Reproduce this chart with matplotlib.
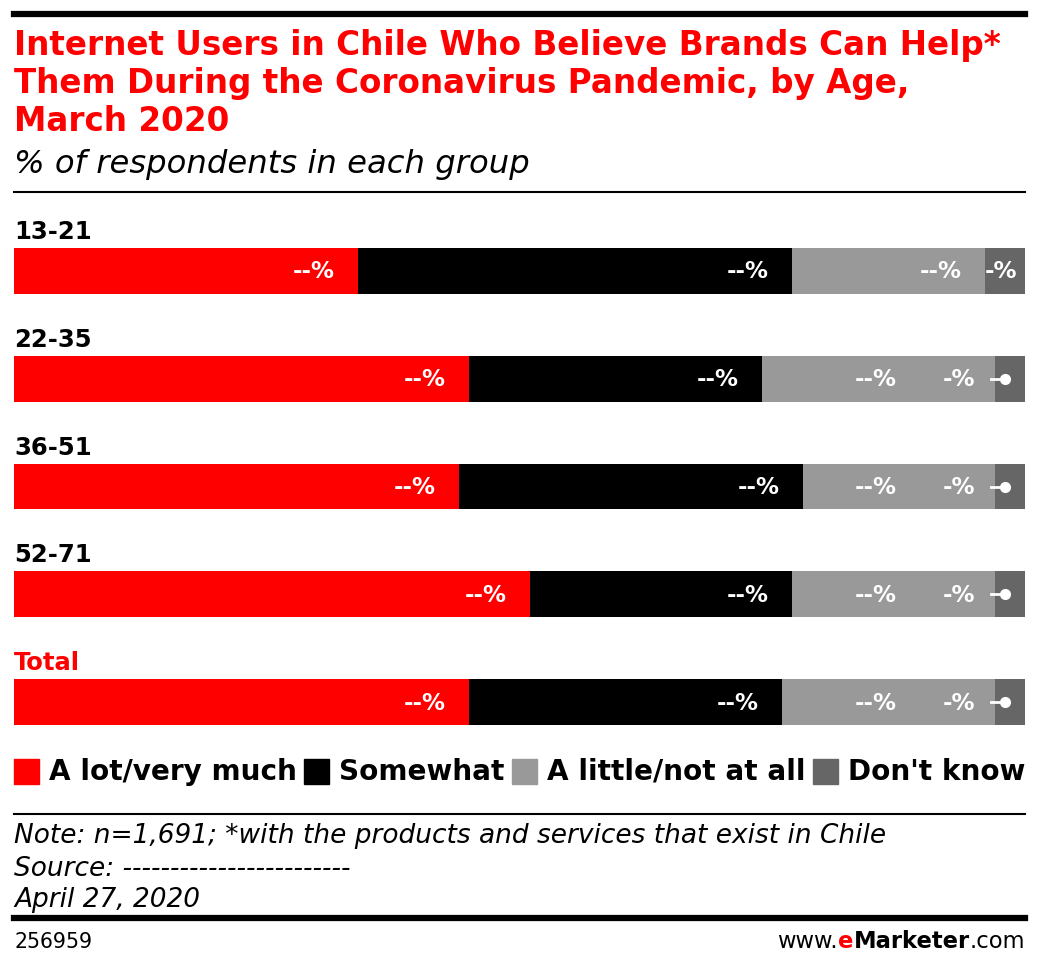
import numpy as np
import matplotlib
matplotlib.use("Agg")
import matplotlib.pyplot as plt
from matplotlib.lines import Line2D
from matplotlib.patches import Rectangle

# data (values hidden in the source, shown as --%)
groups = ["13-21", "22-35", "36-51", "52-71", "Total"]
series = ["A lot/very much", "Somewhat", "A little/not at all", "Don't know"]
a_lot = [34, 45, 44, 51, 45]
somewhat = [43, 29, 34, 26, 31]
a_little = [19, 23, 19, 20, 21]
dont_know = [4, 3, 3, 3, 3]
big_label = "--%"
small_label = "-%"

colors = ["#ff0000", "#000000", "#999999", "#666666"]
W, H = 1039, 970

fig = plt.figure(figsize=(W / 100, H / 100), dpi=100)

def fx(px):
    return px / W

def fy(py):
    return 1 - py / H

# rules
def hline(y, lw):
    fig.add_artist(Line2D([fx(14), fx(1025)], [fy(y), fy(y)], color="black", lw=lw,
                          transform=fig.transFigure))

hline(15, 4.5)
hline(193, 1.5)
hline(815, 1.5)
hline(919, 4.5)

# titles
fig.text(fx(14), fy(29), "Internet Users in Chile Who Believe Brands Can Help*\n"
         "Them During the Coronavirus Pandemic, by Age,\nMarch 2020",
         color="#ff0000", fontsize=23.5, fontweight="bold", va="top", ha="left",
         linespacing=1.2)
fig.text(fx(14), fy(165), "% of respondents in each group", fontsize=23.2,
         style="italic", va="center", ha="left")

# bars
ax = fig.add_axes([fx(14), fy(767.8), fx(1025) - fx(14), (767.8 - 207.2) / H])
ypos = np.arange(len(groups))
data = [a_lot, somewhat, a_little, dont_know]
callout = [v < 3.5 for v in dont_know]
left = np.zeros(len(groups))
for k, vals in enumerate(data):
    vals = np.array(vals, dtype=float)
    ax.barh(ypos, vals, left=left, height=0.426, color=colors[k], edgecolor="none")
    for i, v in enumerate(vals):
        end = left[i] + v
        if k < 3:
            pad = 9.7 if (k == 2 and callout[i]) else 2.3
            ax.text(end - pad, ypos[i], big_label, color="white", fontsize=16.5,
                    fontweight="bold", ha="right", va="center")
        elif not callout[i]:
            ax.text(end - 0.8, ypos[i], small_label, color="white", fontsize=16.5,
                    fontweight="bold", ha="right", va="center")
        else:
            mid = left[i] + v / 2 - 0.5
            ax.plot([mid - 1.4, mid], [ypos[i], ypos[i]], color="white", lw=2)
            ax.plot(mid, ypos[i], "o", color="white", ms=7)
            ax.text(mid - 2.9, ypos[i], small_label, color="white", fontsize=16.5,
                    fontweight="bold", ha="right", va="center")
    left += vals

for i, g in enumerate(groups):
    ax.text(0, ypos[i] - 0.37, g, fontsize=17.5, fontweight="bold", ha="left",
            va="center", color="#ff0000" if g == "Total" else "black")

ax.set_xlim(0, 100)
ax.set_ylim(len(groups) - 0.4, -0.6)
ax.axis("off")

# legend drawn by hand so it spans the full width
fig.canvas.draw()
renderer = fig.canvas.get_renderer()
x = 14
ly = 772
sq = 25
gap = 10
for k, name in enumerate(series):
    r = Rectangle((fx(x), fy(ly + sq / 2)), fx(sq), sq / H, color=colors[k],
                  transform=fig.transFigure)
    fig.add_artist(r)
    t = fig.text(fx(x + sq + gap), fy(ly), name, fontsize=20.1, fontweight="bold",
                 va="center", ha="left")
    bb = t.get_window_extent(renderer)
    x = x + sq + gap + bb.width + 7.5

# notes
fig.text(fx(14), fy(836), "Note: n=1,691; *with the products and services that exist in Chile",
         fontsize=19, style="italic", va="center", ha="left")
fig.text(fx(14), fy(869), "Source: ------------------------", fontsize=19,
         style="italic", va="center", ha="left")
fig.text(fx(14), fy(900), "April 27, 2020", fontsize=19, style="italic",
         va="center", ha="left")

# footer
fig.text(fx(14), fy(942), "256959", fontsize=14.8, va="center", ha="left")
t3 = fig.text(fx(1025), fy(942), ".com", fontsize=16.3, va="center", ha="right")
fig.canvas.draw()
b3 = t3.get_window_extent(renderer)
t2 = fig.text(b3.x0 / W, fy(942), "Marketer", fontsize=16.3, fontweight="bold",
              va="center", ha="right")
b2 = t2.get_window_extent(renderer)
t1 = fig.text(b2.x0 / W, fy(942), "e", fontsize=16.3, fontweight="bold",
              color="#ff0000", va="center", ha="right")
b1 = t1.get_window_extent(renderer)
fig.text(b1.x0 / W, fy(942), "www.", fontsize=16.3, va="center", ha="right")

fig.savefig("out.png", dpi=100)
